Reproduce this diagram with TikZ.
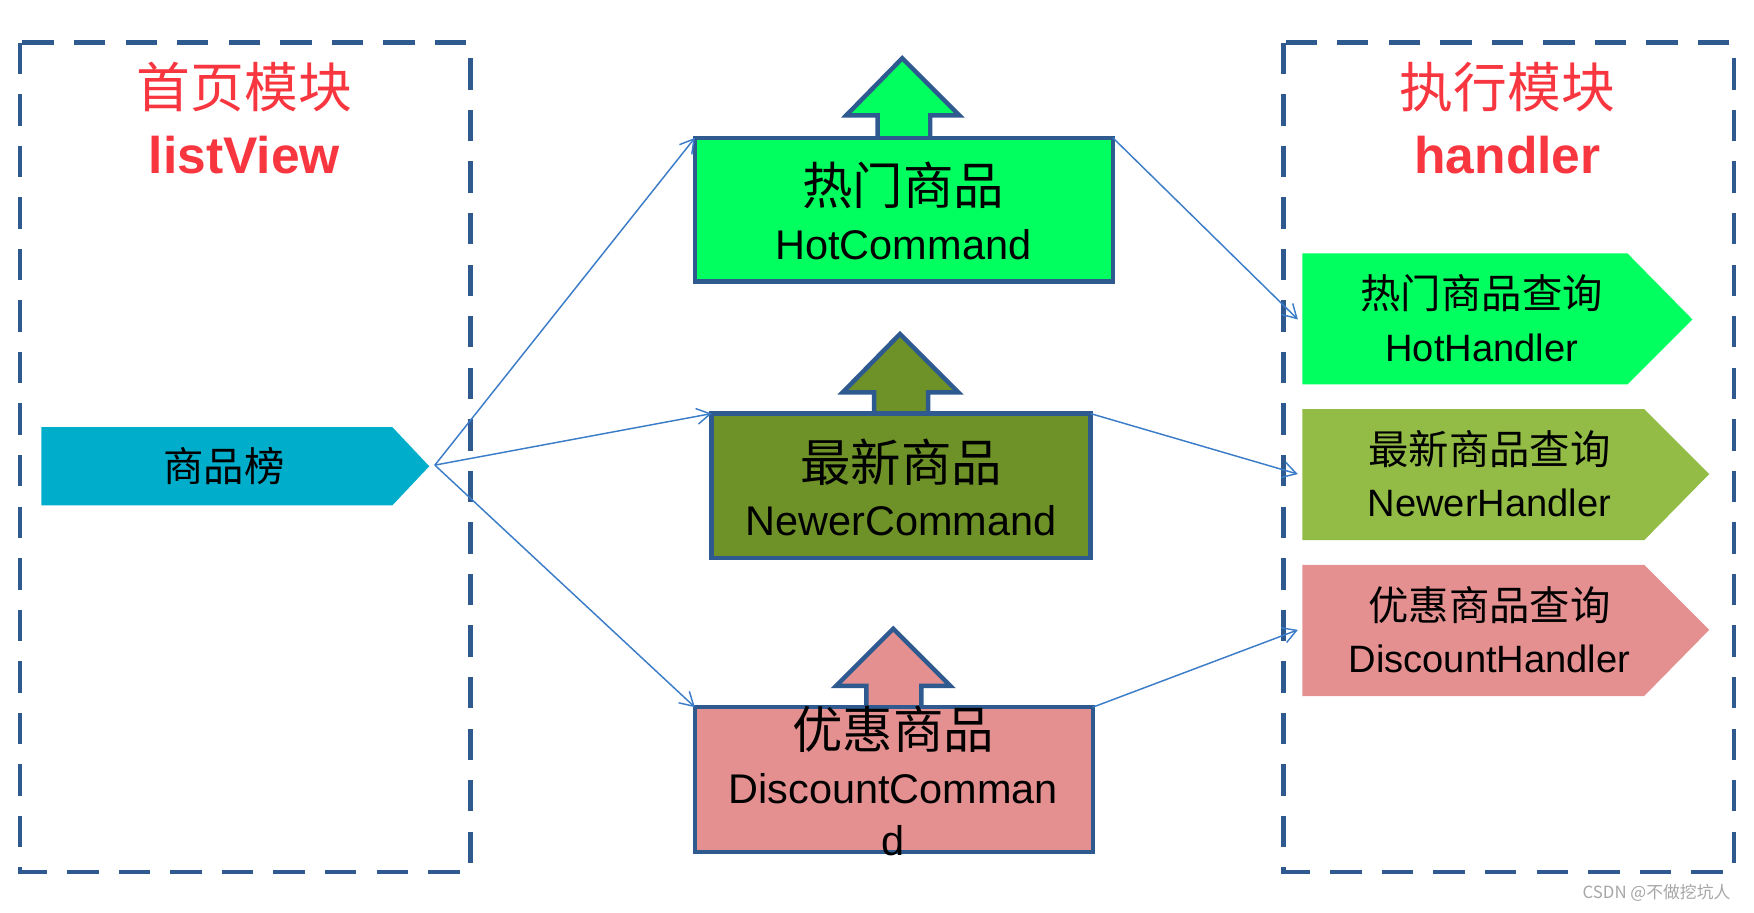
\documentclass[tikz,border=0pt]{standalone}
\usepackage{fontspec}
\setmainfont{Liberation Sans}
\newfontfamily\cjk{Noto Sans CJK SC}
\usetikzlibrary{arrows.meta}
\definecolor{bord}{HTML}{2F5A8F}
\definecolor{hotg}{HTML}{00FF5F}
\definecolor{newg}{HTML}{6E9228}
\definecolor{newh}{HTML}{92BC45}
\definecolor{pink}{HTML}{E59090}
\definecolor{cyanb}{HTML}{00AECB}
\definecolor{redt}{HTML}{F8363F}
\definecolor{conn}{HTML}{3A7CC8}
\tikzset{
 frame/.style={draw=bord,line width=4pt,dash pattern=on 28pt off 18pt},
 box/.style={draw=bord,line width=4pt},
 cn/.style={font=\cjk\fontsize{45}{48}\selectfont},
 en/.style={font=\fontsize{37}{40}\selectfont},
 hcn/.style={font=\cjk\fontsize{36}{40}\selectfont},
 hen/.style={font=\fontsize{34}{36}\selectfont},
 con/.style={draw=conn,line width=1.3pt,-{Straight Barb[length=12pt,width=14pt,line width=1.3pt]}},
}
\begin{document}
\begin{tikzpicture}[x=1pt,y=-1pt]
\useasboundingbox (0,0) rectangle (1565,814);
% dashed frames
\draw[frame] (18,38) rectangle (420,778);
\draw[frame] (1145,38) rectangle (1547,778);
\node[text=redt,font=\cjk\fontsize{48}{50}\selectfont] (t1) at (218,78) {首页模块};
\node[text=redt,font=\bfseries\fontsize{46}{48}\selectfont] (t2) at (218,138) {listView};
\node[text=redt,font=\cjk\fontsize{48}{50}\selectfont] (t3) at (1345,78) {执行模块};
\node[text=redt,font=\bfseries\fontsize{46}{48}\selectfont] (t4) at (1345,138) {handler};
% source
\fill[cyanb] (37,381) -- (350,381) -- (383,416) -- (350,451) -- (37,451) -- cycle;
\node[hcn] (src) at (200,416) {商品榜};
\coordinate (s) at (388,415);
% command up arrows
\draw[box,fill=hotg] (783,123) -- (783,103) -- (755,103) -- (805,52) -- (856,103) -- (830,103) -- (830,123);
\draw[box,fill=newg] (780,369) -- (780,350) -- (752,350) -- (803,298) -- (855,350) -- (828,350) -- (828,369);
\draw[box,fill=pink] (773,631) -- (773,612) -- (746,612) -- (797,561) -- (848,612) -- (822,612) -- (822,631);
% command boxes
\draw[box,fill=hotg] (620,123) rectangle (993,251);
\coordinate (h1) at (620,123); \coordinate (h2) at (993,123);
\node[cn] (hc) at (806,165) {热门商品};
\node[en] (he) at (806,218) {HotCommand};
\draw[box,fill=newg] (635,369) rectangle (973,498);
\coordinate (n1) at (635,369); \coordinate (n2) at (973,369);
\node[cn] (nc) at (804,412) {最新商品};
\node[en] (ne) at (804,465) {NewerCommand};
\draw[box,fill=pink] (620,631) rectangle (975,760);
\coordinate (d1) at (620,631); \coordinate (d2) at (975,631);
\node[cn] (dc) at (797,651) {优惠商品};
\node[en] (de) at (797,704) {DiscountComman};
\node[en] (dd) at (797,750) {d};
% handlers
\fill[hotg] (1162,226) -- (1452,226) -- (1510,285) -- (1452,343) -- (1162,343) -- cycle;
\node[hcn] (hh1) at (1322,262) {热门商品查询};
\node[hen] (hh2) at (1322,310) {HotHandler};
\fill[newh] (1162,365) -- (1467,365) -- (1525,423) -- (1467,482) -- (1162,482) -- cycle;
\node[hcn] (nh1) at (1329,401) {最新商品查询};
\node[hen] (nh2) at (1329,449) {NewerHandler};
\fill[pink] (1162,504) -- (1467,504) -- (1525,562) -- (1467,621) -- (1162,621) -- cycle;
\node[hcn] (dh1) at (1329,540) {优惠商品查询};
\node[hen] (dh2) at (1329,588) {DiscountHandler};
\coordinate (r1) at (1158,285); \coordinate (r2) at (1158,423); \coordinate (r3) at (1158,562);
% connectors
\draw[con] (s) -- (h1);
\draw[con] (s) -- (n1);
\draw[con] (s) -- (d1);
\draw[con] (h2) -- (r1);
\draw[con] (n2) -- (r2);
\draw[con] (d2) -- (r3);
\node[text=gray!70,font=\cjk\fontsize{15}{16}\selectfont] (wm) at (1478,797) {CSDN @不做挖坑人};
\end{tikzpicture}
\end{document}
